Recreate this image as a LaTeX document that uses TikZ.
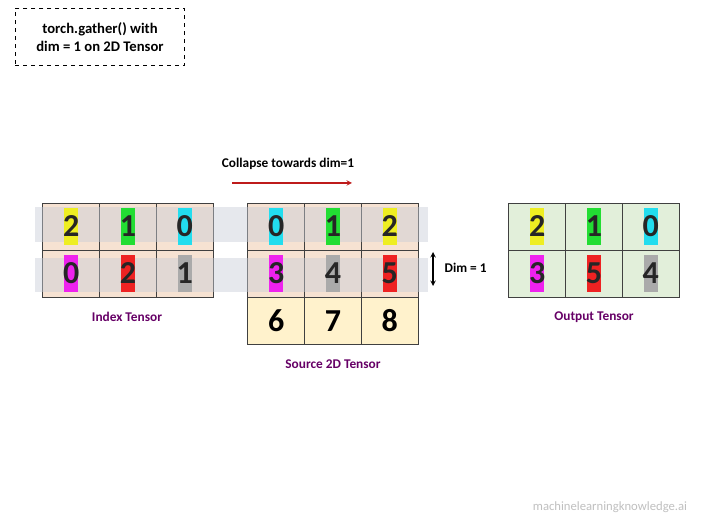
\documentclass[tikz,border=0pt]{standalone}
\usepackage{fontspec}
\setmainfont{Carlito}
\begin{document}
\begin{tikzpicture}[x=0.75pt,y=-0.75pt,
 cell/.style={draw=black!75,line width=0.7pt,minimum width=56.7pt*0.75,minimum height=47pt*0.75,inner sep=0},
 dig/.style={font=\bfseries\fontsize{24}{24}\selectfont,text=black!85},
 hl/.style={minimum width=10.5pt,minimum height=28pt,inner sep=0},
 lbl/.style={font=\bfseries\fontsize{10}{12}\selectfont,text=violet!80!black}]
\useasboundingbox (0,0) rectangle (726,527);
\definecolor{peach}{HTML}{F6E2D2}
\definecolor{cream}{HTML}{FFF2CC}
\definecolor{lgreen}{HTML}{E2EFDA}
\definecolor{cy}{HTML}{22DDEE}
\definecolor{gr}{HTML}{22DD33}
\definecolor{ye}{HTML}{EEEE22}
\definecolor{ma}{HTML}{EE22EE}
\definecolor{re}{HTML}{EE2222}
\definecolor{gy}{HTML}{AAAAAA}
\definecolor{band}{HTML}{C8CCD8}
\node[draw,dashed,thick,minimum width=127pt,minimum height=43pt,align=center,font=\bfseries\fontsize{11}{13}\selectfont] (title) at (100,37) {torch.gather() with\\dim = 1 on 2D Tensor};
\foreach \r/\y in {0/226.5,1/273.5}{\foreach \c/\x in {0/71.3,1/128,2/184.7}{\node[cell,fill=peach] (i\r\c) at (\x,\y) {};}}
\foreach \r/\y/\f in {0/226.5/peach,1/273.5/peach,2/321/cream}{\foreach \c/\x in {0/276.3,1/333,2/389.7}{\node[cell,fill=\f] (s\r\c) at (\x,\y) {};}}
\foreach \r/\y in {0/226.5,1/273.5}{\foreach \c/\x in {0/537.3,1/594,2/650.7}{\node[cell,fill=lgreen] (o\r\c) at (\x,\y) {};}}
\fill[band,opacity=0.45] (35,207) rectangle (428,242);
\fill[band,opacity=0.45] (35,258) rectangle (428,292);
\foreach \n/\col/\d in {i00/ye/2,i01/gr/1,i02/cy/0,i10/ma/0,i11/re/2,i12/gy/1,
 s00/cy/0,s01/gr/1,s02/ye/2,s10/ma/3,s11/gy/4,s12/re/5,
 o00/ye/2,o01/gr/1,o02/cy/0,o10/ma/3,o11/re/5,o12/gy/4}{
 \node[hl,fill=\col] at (\n.center) {};
 \node[dig] at (\n.center) {\d};}
\foreach \n/\d in {s20/6,s21/7,s22/8}{\node[dig,text=black] at (\n.center) {\d};}
\node[lbl] (li) at (127,317) {Index Tensor};
\node[lbl] (ls) at (333,364) {Source 2D Tensor};
\node[lbl] (lo) at (594,317) {Output Tensor};
\node[font=\bfseries\fontsize{10}{12}\selectfont] (cl) at (288,164) {Collapse towards dim=1};
\coordinate (a1) at (232,183); \coordinate (a2) at (352,183);
\draw[-stealth,re!80!black,thick] (a1) -- (a2);
\coordinate (d1) at (433,252); \coordinate (d2) at (433,286);
\draw[stealth-stealth,thick] (d1) -- (d2);
\node[font=\bfseries\fontsize{10}{12}\selectfont,anchor=west] (dl) at (440,268) {Dim = 1};
\node[font=\fontsize{9.5}{11}\selectfont,text=black!25] (wm) at (610,507) {machinelearningknowledge.ai};
\end{tikzpicture}
\end{document}
